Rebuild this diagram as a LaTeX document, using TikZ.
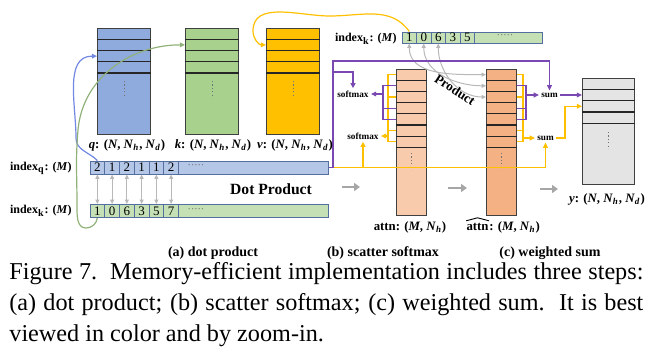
\documentclass[tikz,border=0pt]{standalone}
\usepackage{fontspec}
\setmainfont{Liberation Serif}
\usetikzlibrary{arrows.meta}

\definecolor{qblue}{HTML}{8FAADC}
\definecolor{qlight}{HTML}{B4C7E7}
\definecolor{kgreen}{HTML}{A9D18E}
\definecolor{klight}{HTML}{C5E0B4}
\definecolor{vyellow}{HTML}{FFC000}
\definecolor{attnc}{HTML}{F8CBAD}
\definecolor{attnhc}{HTML}{F4B183}
\definecolor{ygray}{HTML}{E4E4E4}
\definecolor{idxedge}{RGB}{84,110,160}
\definecolor{wirep}{RGB}{122,72,178}
\definecolor{wirey}{HTML}{FFC000}
\definecolor{lightgr}{HTML}{B8B8B8}

\newcommand{\dimsqkv}{(\textit{N}, \textit{N}\textsubscript{\textit{h}}, \textit{N}\textsubscript{\textit{d}})}
\newcommand{\dimsattn}{(\textit{M}, \textit{N}\textsubscript{\textit{h}})}

\begin{document}
\begin{tikzpicture}[x=0.5pt, y=-0.5pt,
  >={Triangle[length=2.6pt,width=2.4pt]},
  tensor/.style={draw=black!75, line width=0.7pt, inner sep=0pt, anchor=north west},
  rowline/.style={black!85, line width=0.6pt},
  vdots/.style={black!55, line width=0.6pt, dash pattern=on 0.6pt off 1.1pt},
  idxbar/.style={draw=idxedge, line width=0.5pt, inner sep=0pt, anchor=west},
  cell/.style={draw=idxedge, line width=0.5pt, inner sep=0pt, minimum width=7.375pt,
    minimum height=6.5pt, font=\fontsize{6.5}{7}\selectfont},
  tcell/.style={cell, minimum width=7.25pt, minimum height=5.5pt},
  more/.style={font=\fontsize{5}{6}\selectfont, text=black!60},
  pair/.style={lightgr, line width=0.5pt, <->, >={Triangle[length=2.2pt,width=2pt]}},
  purp/.style={wirep, line width=0.6pt},
  yel/.style={wirey, line width=0.6pt},
  op/.style={font=\fontsize{4.6}{5}\selectfont\bfseries, inner sep=1pt},
  lab/.style={font=\fontsize{6}{7}\selectfont\bfseries, inner sep=0pt},
  shp/.style={font=\fontsize{6.4}{7}\selectfont\bfseries, inner sep=0pt},
  subcap/.style={font=\fontsize{7}{8}\selectfont\bfseries, inner sep=0pt},
  stepar/.style={black!35, line width=1.2pt, -{Triangle[length=3pt,width=4pt]}}
]
\useasboundingbox (0,0) rectangle (654,359);

% Tensors
\node[tensor, fill=qblue, minimum width=26.5pt, minimum height=53pt] (q) at (97,28) {};
\node[tensor, fill=kgreen, minimum width=26.5pt, minimum height=53pt] (k) at (185,28) {};
\node[tensor, fill=vyellow, minimum width=26.5pt, minimum height=53pt] (v) at (266,28) {};
\node[tensor, fill=attnc, minimum width=15pt, minimum height=73pt] (attn) at (396,69) {};
\node[tensor, fill=attnhc, minimum width=15pt, minimum height=73pt] (attnh) at (486,69) {};
\node[tensor, fill=ygray, minimum width=26pt, minimum height=53pt] (y) at (582,78) {};

% Rows and row centres
\foreach \b/\n/\h in {q/4/5.625, k/4/5.625, v/4/5.625, attn/7/5.6, attnh/7/5.6, y/4/5.65} {
  \foreach \r in {1,...,\n} {
    \draw[rowline] ([yshift=-\r*\h pt]\b.north west) -- ([yshift=-\r*\h pt]\b.north east);
    \coordinate (\b-l\r) at ([yshift=-(\r-0.5)*\h pt]\b.north west);
    \coordinate (\b-r\r) at ([yshift=-(\r-0.5)*\h pt]\b.north east);
  }
}
\foreach \b/\d in {q/26.5, k/26.5, v/26.5, attn/42, attnh/42, y/27}
  \draw[vdots] ([yshift=-\d pt]\b.north) -- ++(0,17);

% Index rows
\node[idxbar, fill=qlight, minimum width=119pt, minimum height=6.5pt] (iq) at (90,167.5) {};
\foreach \v [count=\i] in {2,1,2,1,1,2}
  \node[cell, fill=qlight] (iq\i) at (82.625+14.75*\i,167.5) {\v};
\node[more] (iqm) at (196,167) {·····};

\node[idxbar, fill=klight, minimum width=119pt, minimum height=6.5pt] (ik) at (90,211) {};
\foreach \v [count=\i] in {1,0,6,3,5,7}
  \node[cell, fill=klight] (ik\i) at (82.625+14.75*\i,211) {\v};
\node[more] (ikm) at (196,210.5) {·····};

\node[idxbar, fill=klight, minimum width=70pt, minimum height=5.5pt] (tk) at (402,37.5) {};
\foreach \v [count=\i] in {1,0,6,3,5}
  \node[tcell, fill=klight] (tk\i) at (394.75+14.5*\i,37.5) {\v};
\node[more] (tkm) at (505,37) {·····};

\foreach \i in {1,...,6}
  \draw[pair] (iq\i.south) -- (ik\i.north);

% Gathers
\draw[qblue!80!blue, line width=0.6pt, ->] (iq1.north) to[out=135,in=-90] (76,138)
  to[out=90,in=180] (q-l3);
\draw[kgreen!85!black, line width=0.6pt, ->] (ik1.south) to[out=-100,in=0] (86,228)
  to[out=180,in=-90] (77,205) to[out=90,in=-95] (78,130) to[out=85,in=180] (k-l2);
\draw[wirey, line width=0.6pt, ->] (tk1.north) to[out=125,in=0] (330,16)
  to[out=180,in=90] (253,31) to[out=-90,in=180] (v-l2);
\foreach \i in {1,2,3}
  \draw[pair] (tk\i.south) to[out=-90,in=180] (attnh-l\i);

% Operators
\node[op] (smU) at (353,94) {softmax};
\node[op] (smL) at (363,136) {softmax};
\node[op] (sumU) at (549.5,95) {sum};
\node[op] (sumL) at (545.5,138) {sum};

\coordinate (pL) at (383,0);
\coordinate (yL) at (388,0);
\coordinate (yR) at (523,0);
\coordinate (pR) at (526,0);
\coordinate (ptop) at (333,61);
\coordinate (pbr) at (333,72);

% Scatter wiring
\draw[yel] (attn-l1) -- (attn-l1 -| yL) -- (attn-l7 -| yL) -- (attn-l7);
\foreach \r in {3,6} \draw[yel] (attn-l\r) -- (attn-l\r -| yL);
\draw[yel, ->] (smL -| yL) -- (smL.east);
\draw[purp] (attn-l2) -- (attn-l2 -| pL) -- (attn-l5 -| pL) -- (attn-l5);
\draw[purp] (attn-l4) -- (attn-l4 -| pL);
\draw[purp, ->] (smU -| pL) -- (smU.east);

\draw[yel] (attnh-r1) -- (attnh-r1 -| yR) -- (attnh-r7 -| yR) -- (attnh-r7);
\foreach \r in {3,6} \draw[yel] (attnh-r\r) -- (attnh-r\r -| yR);
\draw[yel, ->] (sumL -| yR) -- (sumL.west);
\draw[purp] (attnh-r2) -- (attnh-r2 -| pR) -- (attnh-r5 -| pR) -- (attnh-r5);
\draw[purp] (attnh-r4) -- (attnh-r4 -| pR);
\draw[purp, ->] (sumU -| pR) -- (sumU.west);

\draw[purp, ->] (sumU.east) -- (sumU.east -| y-l2);
\draw[yel, ->] (sumL.east) -- ++(9,0) |- (y-l3);

\draw[yel, ->] (iq.east) -| (sumL.south);
\draw[yel, ->] (iq.east -| smL.south) -- (smL.south);
\draw[purp, ->] (iq.east) -| (ptop) -| (sumU.north);
\draw[purp, ->] (pbr) -| (smU.north);

% Steps
\draw[stepar] (342,187) -- (360,187);
\draw[stepar] (448,188) -- (467,188);
\draw[stepar] (540,189) -- (558,189);

% Labels
\node[lab, anchor=east] (liq) at (72,168) {index\textsubscript{q}: (\textit{M})};
\node[lab, anchor=east] (lik) at (72,211) {index\textsubscript{k}: (\textit{M})};
\node[lab, anchor=east] (ltk) at (397,39) {index\textsubscript{k}: (\textit{M})};
\node[shp] (lq) at (127,145) {\textit{q}: \dimsqkv};
\node[shp] (lk) at (213,145) {\textit{k}: \dimsqkv};
\node[shp] (lv) at (295,145) {\textit{v}: \dimsqkv};
\node[shp] (lattn) at (410,227) {attn: \dimsattn};
\node[shp, anchor=base east] (hatw) at (489,230) {attn};
\node[shp, anchor=base west] (lattnh) at (489,230) {: \dimsattn};
\draw[line width=0.45pt] ([yshift=0.8pt]hatw.north west) -- ([yshift=2.3pt]hatw.north)
  -- ([yshift=0.8pt]hatw.north east);
\node[shp] (ly) at (607,199) {\textit{y}: \dimsqkv};
\node[font=\fontsize{7.8}{9}\selectfont\bfseries, inner sep=0pt] (dp) at (271,189) {Dot Product};
\node[rotate=-33, font=\fontsize{6.6}{8}\selectfont\bfseries, inner sep=0pt] (prod) at (455,90) {Product};

\node[subcap] (sa) at (213,253) {(a) dot product};
\node[subcap] (sb) at (383,253) {(b) scatter softmax};
\node[subcap] (sc) at (550,253) {(c) weighted sum};

\node[anchor=north west, inner sep=0pt, text width=317pt, align=justify,
  font=\fontsize{12.1}{15.5}\selectfont] (cap) at (9,262)
  {Figure 7.\ \ Memory-efficient implementation includes three steps:\linebreak
   (a) dot product; (b) scatter softmax; (c) weighted sum.\ \ It is best\linebreak
   viewed in color and by zoom-in.};

\end{tikzpicture}
\end{document}
